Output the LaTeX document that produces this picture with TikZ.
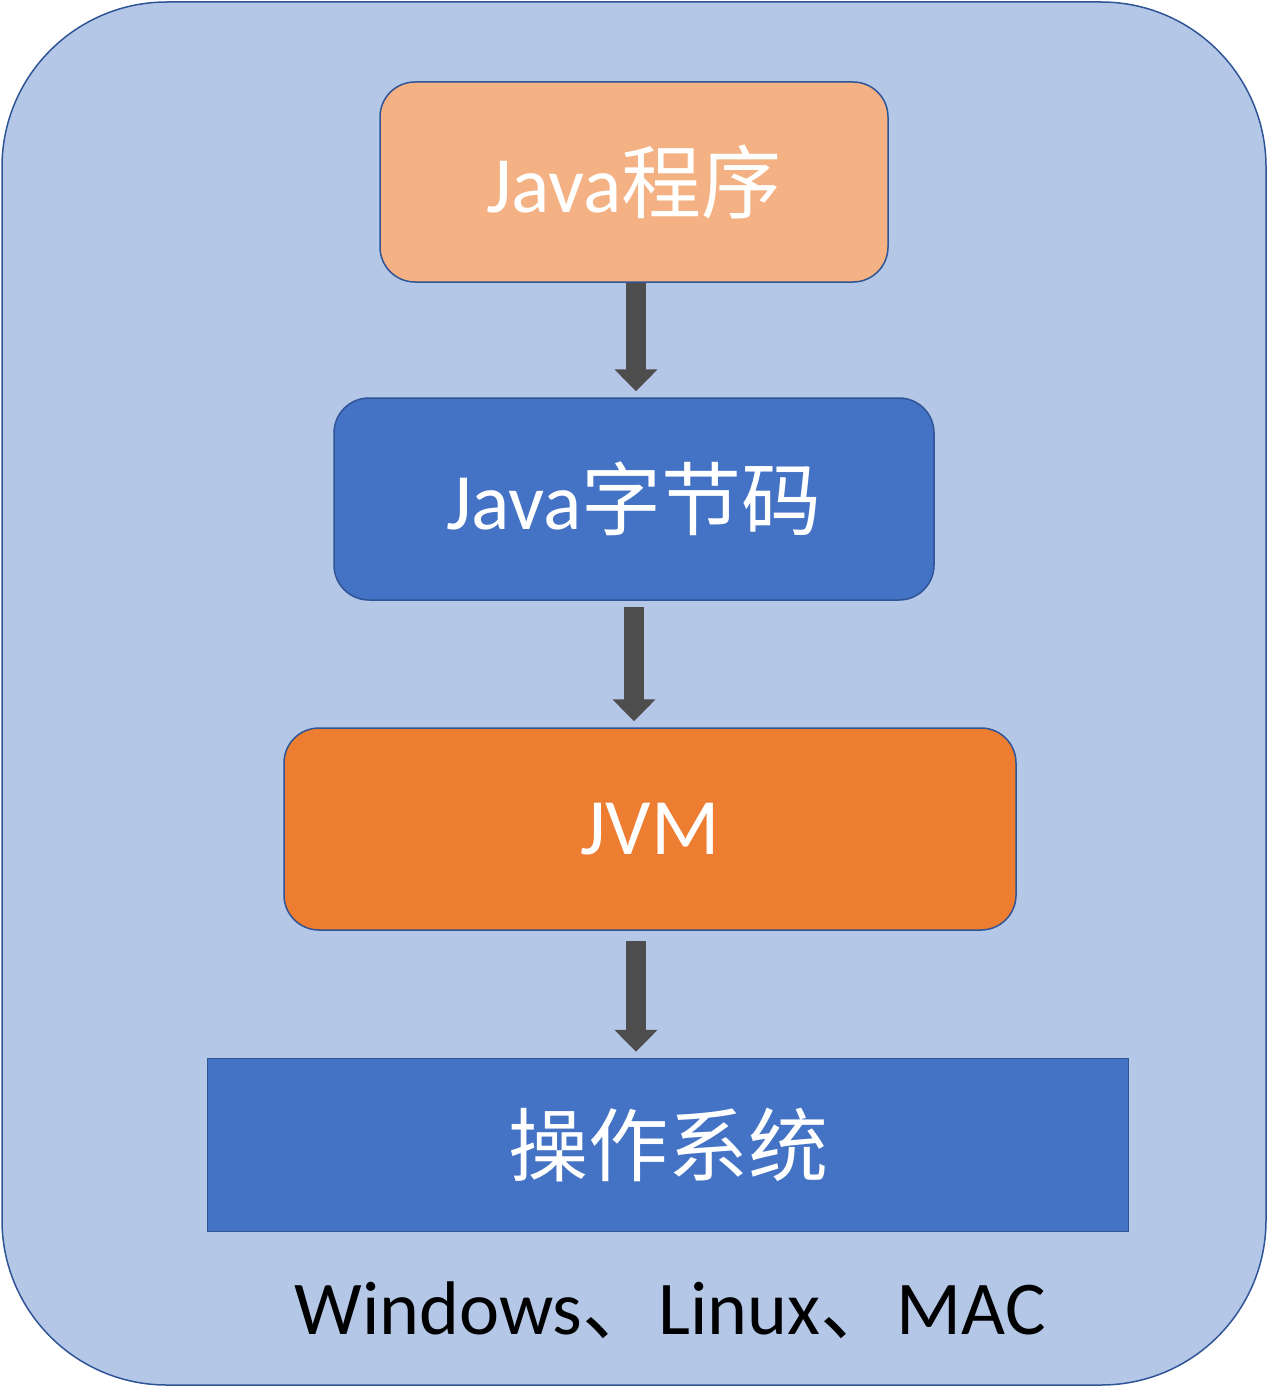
\documentclass[tikz,border=0pt]{standalone}
\usepackage{fontspec}
\setmainfont{Carlito}
\newfontfamily\cjk{Noto Sans CJK SC}
\usetikzlibrary{arrows.meta}
\definecolor{bgc}{HTML}{B4C7E7}
\definecolor{edg}{HTML}{2F5597}
\definecolor{peach}{HTML}{F4B183}
\definecolor{blu}{HTML}{4472C4}
\definecolor{org}{HTML}{ED7D31}
\definecolor{arr}{HTML}{4D4D4D}
\begin{document}
\begin{tikzpicture}[x=1pt,y=-1pt,
 box/.style={draw=edg,line width=1.5pt,text=white,font=\fontsize{80}{90}\selectfont,inner sep=0pt},
 con/.style={arr,line width=20pt,-{Triangle[width=42pt,length=22pt]},shorten >=6pt}]
\useasboundingbox (0,0) rectangle (1268,1399);
\draw[fill=bgc,draw=edg,line width=1.5pt,rounded corners=165pt] (2,2) rectangle (1266,1385);
\node[box,fill=peach,rounded corners=35pt,minimum width=508pt,minimum height=200pt] (a) at (634,182) {Java{\cjk 程序}};
\node[box,fill=blu,rounded corners=35pt,minimum width=600pt,minimum height=202pt] (b) at (634,499) {Java{\cjk 字节码}};
\node[box,fill=org,rounded corners=35pt,minimum width=732pt,minimum height=202pt] (c) at (650,829) {JVM};
\node[box,fill=blu,minimum width=921pt,minimum height=173pt] (d) at (668,1145) {\cjk 操作系统};
\node[font=\fontsize{76}{86}\selectfont] (t) at (670,1310) {Windows{\cjk 、}Linux{\cjk 、}MAC};
\draw[con] ([xshift=2pt]a.south) -- ([xshift=2pt]a.south |- b.north);
\draw[con] ([yshift=-6pt]b.south) -- (b.south |- c.north);
\draw[con] ([xshift=-14pt,yshift=-10pt]c.south) -- ([xshift=-14pt]c.south |- d.north);
\end{tikzpicture}
\end{document}
